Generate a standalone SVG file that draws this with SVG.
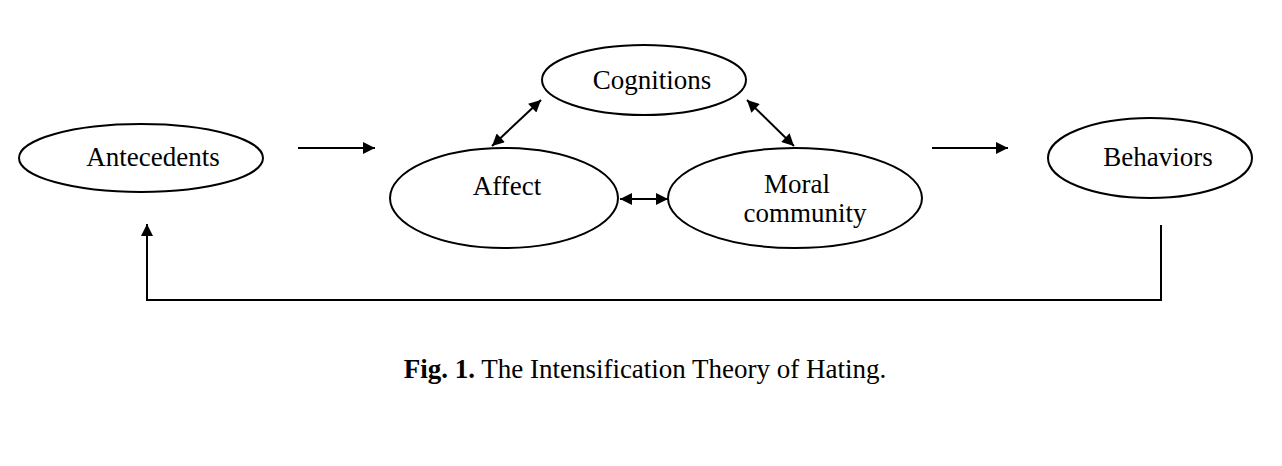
<svg xmlns="http://www.w3.org/2000/svg" width="1282" height="466" viewBox="0 0 1282 466">
<defs>
<marker id="ah" viewBox="0 0 10 10" refX="10" refY="5" markerWidth="18" markerHeight="12" markerUnits="userSpaceOnUse" orient="auto-start-reverse"><path d="M0,0 L10,5 L0,10 z" fill="#000"/></marker>
<style>
ellipse{fill:#fff;stroke:#000;stroke-width:2}
text{font-family:"Liberation Serif",serif;font-size:27px;fill:#000;text-anchor:middle}
.c{stroke:#000;stroke-width:2;fill:none}
</style>
</defs>
<rect width="1282" height="466" fill="#fff"/>
<g id="antecedents"><ellipse cx="141" cy="158" rx="122" ry="34"/><text x="153" y="166">Antecedents</text></g>
<g id="cognitions"><ellipse cx="644" cy="80" rx="102" ry="35"/><text x="652" y="89">Cognitions</text></g>
<g id="affect"><ellipse cx="504" cy="198" rx="114" ry="50"/><text x="507" y="195">Affect</text></g>
<g id="moral"><ellipse cx="795" cy="198" rx="127" ry="50"/><text x="797" y="193">Moral</text><text x="805" y="222">community</text></g>
<g id="behaviors"><ellipse cx="1150" cy="158" rx="102" ry="40"/><text x="1158" y="166">Behaviors</text></g>
<g id="connectors">
<line class="c" x1="298" y1="148" x2="375" y2="148" marker-end="url(#ah)"/>
<line class="c" x1="932" y1="148" x2="1008" y2="148" marker-end="url(#ah)"/>
<polyline class="c" points="1161,225 1161,300 147,300 147,224" marker-end="url(#ah)"/>
<line class="c" x1="492" y1="146" x2="541" y2="100" marker-start="url(#ah)" marker-end="url(#ah)"/>
<line class="c" x1="747" y1="100" x2="794" y2="146" marker-start="url(#ah)" marker-end="url(#ah)"/>
<line class="c" x1="620" y1="199" x2="668" y2="199" marker-start="url(#ah)" marker-end="url(#ah)"/>
</g>
<text x="645" y="378" style="text-anchor:middle"><tspan font-weight="bold">Fig. 1.</tspan> The Intensification Theory of Hating.</text>
</svg>
